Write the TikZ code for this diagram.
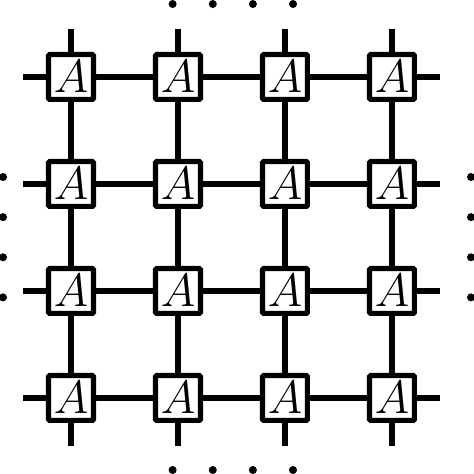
\documentclass[tikz,border=0pt]{standalone}

\begin{document}
\begin{tikzpicture}[
    tensor/.style={draw, line width=2.7pt, rounded corners=0.6pt, fill=white,
        minimum size=0.84cm, inner sep=0pt, font=\Huge},
    bond/.style={line width=2.7pt},
    ]
    % Fix the bounding box
    \useasboundingbox (-1.327,1.439) rectangle (7.533,-7.421);

    % Draw the tensors
    \foreach \i in {1,...,4} {
        \foreach \j in {1,...,4} {
            \node[tensor] (A\i\j) at ({2*(\j-1)},{-2*(\i-1)}) {$A$};
        }
    }

    % Draw the bonds between neighbours
    \foreach \i in {1,...,4} {
        \foreach \j/\k in {1/2, 2/3, 3/4} {
            \draw[bond] (A\i\j) -- (A\i\k);
            \draw[bond] (A\j\i) -- (A\k\i);
        }
    }

    % Draw the open legs at the edges
    \foreach \i in {1,...,4} {
        \coordinate (W\i) at ([xshift=-0.9cm]A\i1.center);
        \coordinate (E\i) at ([xshift=0.9cm]A\i4.center);
        \coordinate (N\i) at ([yshift=0.9cm]A1\i.center);
        \coordinate (S\i) at ([yshift=-0.9cm]A4\i.center);
        \draw[bond] (A\i1) -- (W\i);
        \draw[bond] (A\i4) -- (E\i);
        \draw[bond] (A1\i) -- (N\i);
        \draw[bond] (A4\i) -- (S\i);
    }

    % Draw the dots on each side
    \foreach \t in {1.9, 2.65, 3.4, 4.15} {
        \fill (\t,1.364) circle (0.075);
        \fill (\t,-7.346) circle (0.075);
        \fill (-1.271,-\t+0.03) circle (0.075);
        \fill (7.477,-\t+0.03) circle (0.075);
    }

\end{tikzpicture}
\end{document}
